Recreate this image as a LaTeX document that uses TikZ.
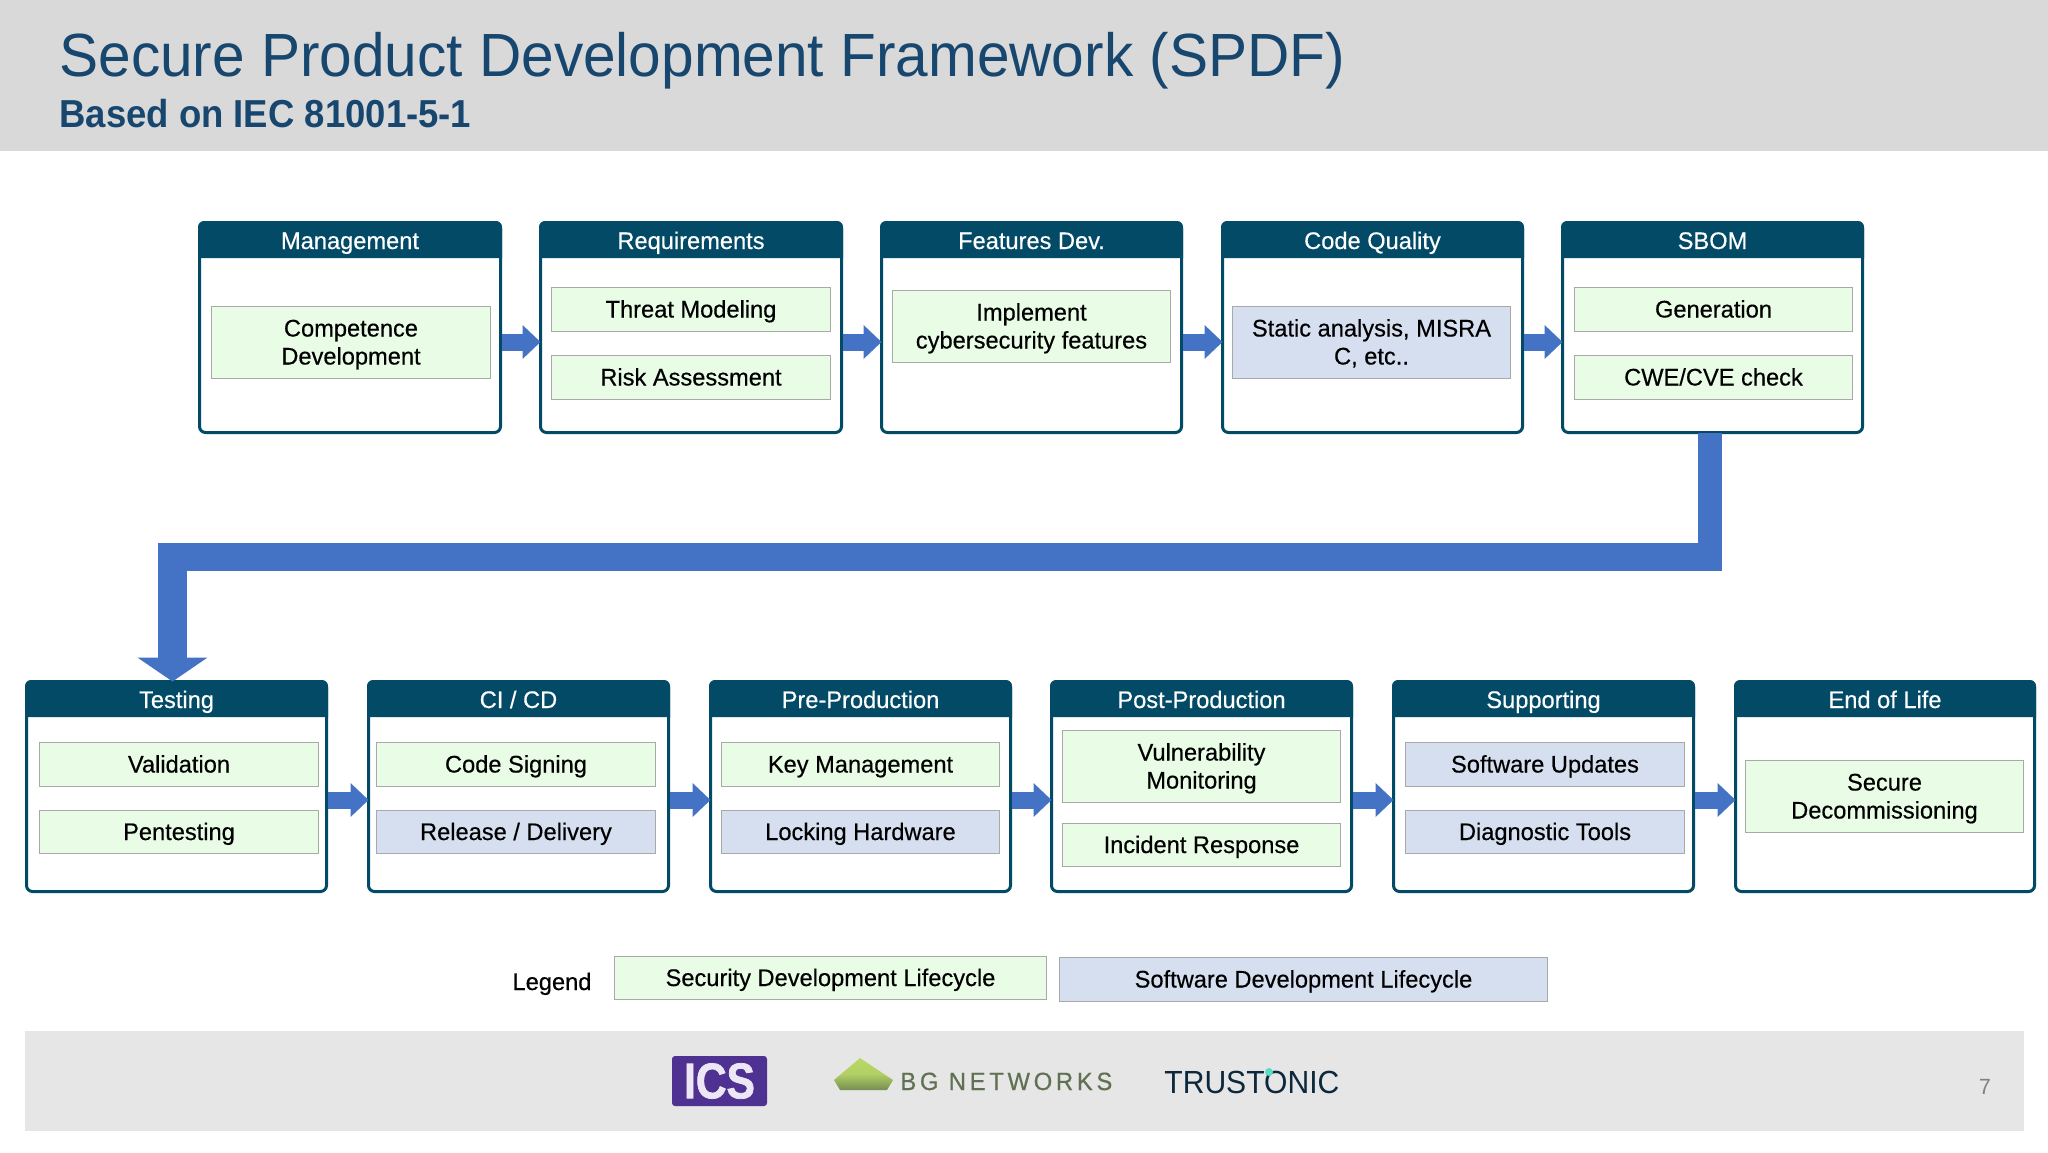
\documentclass[tikz,border=0pt]{standalone}
\usepackage{fontspec}
\usetikzlibrary{arrows.meta}
\setmainfont[FakeStretch=0.985,FakeBold=0.4]{Liberation Sans}
\newfontfamily\titlefont[FakeStretch=0.96]{Liberation Sans}
\newfontfamily\subfont[FakeStretch=0.936]{Liberation Sans}
\newfontfamily\icsfont[FakeStretch=0.85,FakeBold=1.5]{Liberation Sans}
\newfontfamily\bgfont[FakeStretch=0.95,FakeBold=0.5,LetterSpace=15]{Liberation Sans}
\newfontfamily\trustfont[FakeStretch=0.94]{Liberation Sans}
\newcommand{\tstrut}{\vrule width 0pt height 11pt depth 3pt}
\definecolor{hdr}{HTML}{024A66}
\definecolor{band}{HTML}{D9D9D9}
\definecolor{foot}{HTML}{E6E6E6}
\definecolor{ink}{HTML}{17476F}
\definecolor{flow}{HTML}{4472C4}
\definecolor{sdl}{HTML}{E9FDE6}
\definecolor{swd}{HTML}{D6DFF0}
\definecolor{edge}{HTML}{A9A9A9}
\definecolor{icsbg}{HTML}{4E3191}
\definecolor{icstx}{HTML}{ECE6F5}
\definecolor{bgtop}{HTML}{B8D866}
\definecolor{bgmid}{HTML}{B0D064}
\definecolor{bgbot}{HTML}{768E54}
\definecolor{bgtx}{HTML}{607052}
\definecolor{trtx}{HTML}{0C283C}
\definecolor{trdot}{HTML}{5ADCC8}
\tikzset{
  x=0.5pt,y=-0.5pt,
  bodytext/.style={font=\fontsize{12}{14}\selectfont,text=black,align=center,inner sep=0pt,outer sep=0pt},
  stagebox/.style={draw=hdr,line width=1.5pt,rounded corners=3pt,inner sep=0pt,outer sep=0pt},
  stagetitle/.style={font=\fontsize{12}{14}\selectfont,text=white,inner sep=0pt,outer sep=0pt},
  greenbox/.style={bodytext,fill=sdl,draw=edge,line width=0.7pt},
  bluebox/.style={bodytext,fill=swd,draw=edge,line width=0.7pt},
  flowarrow/.style={draw=flow,line width=8.5pt,shorten <=0.75pt,-{Triangle[length=9pt,width=16.5pt]}},
  flowline/.style={draw=flow,line width=12pt},
  bigarrow/.style={draw=flow,line width=14.25pt,miter limit=10,-{Triangle[length=12pt,width=34.5pt]}},
}
\newcommand{\stage}[6]{% name x1 y1 x2 y2 title
  \pgfmathsetmacro{\cxx}{(#2+#4)/2}
  \pgfmathsetmacro{\cyy}{(#3+#5)/2}
  \node[stagebox,minimum width={(#4-#2-3)*0.5pt},minimum height={(#5-#3-3)*0.5pt}] (#1) at (\cxx,\cyy) {};
  \fill[hdr] (#2,#3+37) [rounded corners=3pt] -- (#2,#3) -- (#4,#3) [sharp corners] -- (#4,#3+37) -- cycle;
  \node[stagetitle] (#1h) at (\cxx,#3+20) {\tstrut #6};
}
\newcommand{\inbox}[7]{% name style x1 y1 x2 y2 text
  \node[#2,minimum width={(#5-#3-1.5)*0.5pt},minimum height={(#6-#4-1.5)*0.5pt}] (#1) at ({(#3+#5)/2},{(#4+#6)/2}) {\tstrut #7\tstrut};
}
\begin{document}
\begin{tikzpicture}
\useasboundingbox (0,0) rectangle (2048,1152);
\fill[white] (0,0) rectangle (2048,1152);
\fill[band] (0,0) rectangle (2048,151);
\fill[foot] (25,1031) rectangle (2024,1131);
\node[anchor=base west,inner sep=0pt,text=ink,font=\titlefont\fontsize{30.5}{34}\selectfont] (title) at (59,76) {Secure Product Development Framework (SPDF)};
\node[anchor=base west,inner sep=0pt,text=ink,font=\subfont\bfseries\fontsize{19.5}{22}\selectfont] (subtitle) at (59,127) {Based on IEC 81001-5-1};
% top row
\stage{mgmt}{198}{221}{502}{434}{Management}
\stage{reqs}{539}{221}{843}{434}{Requirements}
\stage{feat}{880}{221}{1183}{434}{Features Dev.}
\stage{code}{1221}{221}{1524}{434}{Code Quality}
\stage{sbom}{1561}{221}{1864}{434}{SBOM}
\inbox{comp}{greenbox}{211}{306}{491}{379}{Competence\\Development}
\inbox{threat}{greenbox}{551}{287}{831}{332}{Threat Modeling}
\inbox{risk}{greenbox}{551}{355}{831}{400}{Risk Assessment}
\inbox{impl}{greenbox}{892}{290}{1171}{363}{Implement\\cybersecurity features}
\inbox{stat}{bluebox}{1232}{306}{1511}{379}{Static analysis, MISRA\\C, etc..}
\inbox{gen}{greenbox}{1574}{287}{1853}{332}{Generation}
\inbox{cwe}{greenbox}{1574}{355}{1853}{400}{CWE/CVE check}
% bottom row
\stage{test}{25}{680}{328}{893}{Testing}
\stage{cicd}{367}{680}{670}{893}{CI / CD}
\stage{prep}{709}{680}{1012}{893}{Pre-Production}
\stage{post}{1050}{680}{1353}{893}{Post-Production}
\stage{supp}{1392}{680}{1695}{893}{Supporting}
\stage{eol}{1734}{680}{2036}{893}{End of Life}
\inbox{valid}{greenbox}{39}{742}{319}{787}{Validation}
\inbox{pent}{greenbox}{39}{810}{319}{854}{Pentesting}
\inbox{sign}{greenbox}{376}{742}{656}{787}{Code Signing}
\inbox{rel}{bluebox}{376}{810}{656}{854}{Release / Delivery}
\inbox{keym}{greenbox}{721}{742}{1000}{787}{Key Management}
\inbox{lock}{bluebox}{721}{810}{1000}{854}{Locking Hardware}
\inbox{vuln}{greenbox}{1062}{730}{1341}{803}{Vulnerability\\Monitoring}
\inbox{inc}{greenbox}{1062}{823}{1341}{867}{Incident Response}
\inbox{upd}{bluebox}{1405}{742}{1685}{787}{Software Updates}
\inbox{diag}{bluebox}{1405}{810}{1685}{854}{Diagnostic Tools}
\inbox{decom}{greenbox}{1745}{760}{2024}{833}{Secure\\Decommissioning}
% connectors
\coordinate (rowA) at (0,342);
\coordinate (rowB) at (0,800);
\foreach \a/\b in {mgmt/reqs,reqs/feat,feat/code,code/sbom}
  \draw[flowarrow] (\a.east |- rowA) -- (\b.west |- rowA);
\foreach \a/\b in {test/cicd,cicd/prep,prep/post,post/supp,supp/eol}
  \draw[flowarrow] (\a.east |- rowB) -- (\b.west |- rowB);
\coordinate (bendR) at (1710,557);
\coordinate (bendE) at (1722,557);
\coordinate (bendL) at (172.5,557);
\draw[flowline] (sbom.south -| bendR) -- (bendR);
\draw[bigarrow] (bendE) -- (bendL) -- (test.north -| bendL);
% legend
\node[bodytext] (legend) at (552,982) {\tstrut Legend};
\inbox{legS}{greenbox}{614}{956}{1047}{1000}{Security Development Lifecycle}
\inbox{legW}{bluebox}{1059}{957}{1548}{1002}{Software Development Lifecycle}
% logos
\fill[icsbg,rounded corners=1.5pt] (672,1056) rectangle (767,1106);
\node[inner sep=0pt,text=icstx,font=\icsfont\bfseries\fontsize{25}{28}\selectfont] (ics) at (719.5,1081) {ICS};
\shade[top color=bgtop,bottom color=bgbot,middle color=bgmid] (860,1058) -- (834,1080) -- (840,1090) -- (887,1090) -- (893,1080) -- cycle;
\node[anchor=base west,inner sep=0pt,text=bgtx,font=\bgfont\fontsize{12.5}{14}\selectfont] (bg) at (900,1090) {BG NETWORKS};
\node[anchor=base west,inner sep=0pt,text=trtx,font=\trustfont\fontsize{16}{18}\selectfont] (trust) at (1164,1093) {TRUSTONIC};
\fill[trdot] (1269,1072) circle (2pt);
\node[inner sep=0pt,text=gray,font=\titlefont\fontsize{11}{13}\selectfont] (page) at (1985,1087) {7};
\end{tikzpicture}
\end{document}
